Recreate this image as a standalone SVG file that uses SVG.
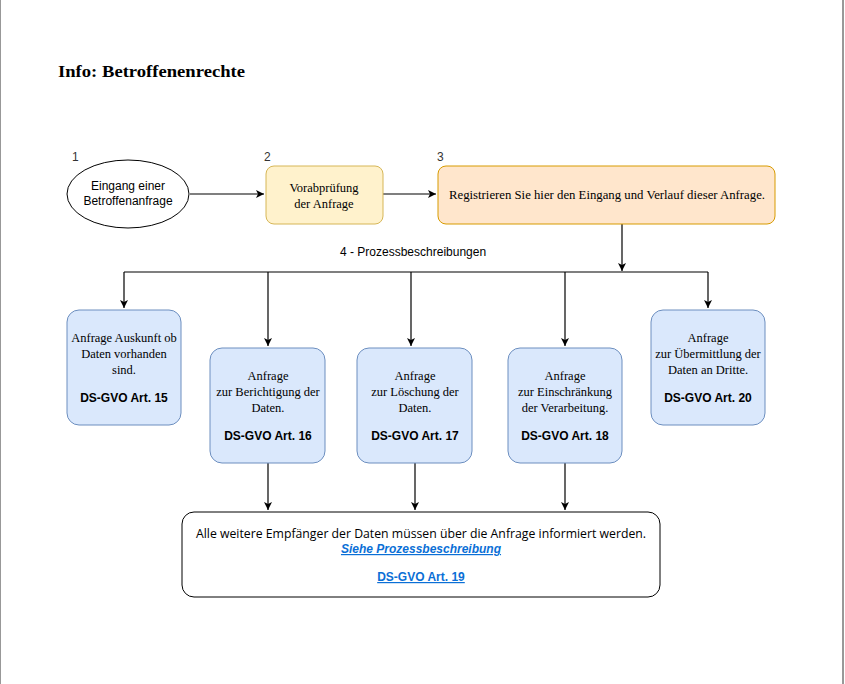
<svg xmlns="http://www.w3.org/2000/svg" width="845" height="684" viewBox="0 0 845 684">
<style>
.s{font-family:"Liberation Serif",serif;font-size:12.5px;fill:#000;text-anchor:middle}
.a{font-family:"Liberation Sans",Arial,sans-serif;font-size:12px;fill:#000;text-anchor:middle}
.b{font-family:"Liberation Sans",Arial,sans-serif;font-size:12px;font-weight:bold;fill:#000;text-anchor:middle}
.n{font-family:"Liberation Sans",Arial,sans-serif;font-size:12px;fill:#333}
.blue{fill:#dae8fc;stroke:#6c8ebf;stroke-width:1}
.c{stroke:#000;stroke-width:1.2;fill:none;marker-end:url(#ar)}
.l{fill:#0a6fd6;text-decoration:underline}
</style>
<defs><marker id="ar" markerWidth="10" markerHeight="10" refX="8" refY="4" orient="auto" markerUnits="userSpaceOnUse"><path d="M0,0 L8,4 L0,8 L2,4 z" fill="#000"/></marker></defs>
<rect x="0" y="-2" width="843" height="690" fill="#fff" stroke="#777" stroke-width="1.5"/>
<text x="58" y="77" textLength="187" lengthAdjust="spacingAndGlyphs" style="font-family:'Liberation Serif',serif;font-size:17px;font-weight:bold">Info: Betroffenenrechte</text>
<text x="72" y="161" class="n">1</text>
<text x="264" y="161" class="n">2</text>
<text x="437" y="161" class="n">3</text>
<text x="340" y="256" class="n" style="fill:#000">4 -  Prozessbeschreibungen</text>
<g id="connectors">
<line x1="190" y1="194" x2="264" y2="194" class="c"/>
<line x1="383" y1="194" x2="436" y2="194" class="c"/>
<line x1="622" y1="224" x2="622" y2="271" class="c"/>
<line x1="124" y1="272" x2="708" y2="272" stroke="#000" stroke-width="1.2"/>
<line x1="124" y1="272" x2="124" y2="308" class="c"/>
<line x1="268" y1="272" x2="268" y2="346" class="c"/>
<line x1="411" y1="272" x2="411" y2="346" class="c"/>
<line x1="565" y1="272" x2="565" y2="346" class="c"/>
<line x1="708" y1="272" x2="708" y2="308" class="c"/>
<line x1="268" y1="463" x2="268" y2="510" class="c"/>
<line x1="415" y1="463" x2="415" y2="510" class="c"/>
<line x1="565" y1="463" x2="565" y2="510" class="c"/>
</g>
<g id="n1"><ellipse cx="128" cy="194" rx="61" ry="34" fill="#fff" stroke="#000"/>
<text x="128" y="190" class="a">Eingang einer</text><text x="128" y="205" class="a">Betroffenanfrage</text></g>
<g id="n2"><rect x="266" y="166" width="117" height="58" rx="8" fill="#fff2cc" stroke="#d6b656"/>
<text x="324" y="192" class="s">Vorabprüfung</text><text x="324" y="208" class="s">der Anfrage</text></g>
<g id="n3"><rect x="438" y="166" width="337" height="58" rx="8" fill="#ffe6cc" stroke="#d79b00"/>
<text x="607" y="199" class="s" textLength="316" lengthAdjust="spacingAndGlyphs">Registrieren Sie hier den Eingang und Verlauf dieser Anfrage.</text></g>
<g id="n15"><rect x="67" y="310" width="114" height="115" rx="12" class="blue"/>
<text x="124" y="342" class="s">Anfrage Auskunft ob</text><text x="124" y="358" class="s">Daten vorhanden</text><text x="124" y="374" class="s">sind.</text><text x="124" y="402" class="b">DS-GVO Art. 15</text></g>
<g id="n16"><rect x="210" y="348" width="115" height="115" rx="12" class="blue"/>
<text x="268" y="380" class="s">Anfrage</text><text x="268" y="396" class="s">zur Berichtigung der</text><text x="268" y="412" class="s">Daten.</text><text x="268" y="440" class="b">DS-GVO Art. 16</text></g>
<g id="n17"><rect x="357" y="348" width="115" height="115" rx="12" class="blue"/>
<text x="415" y="380" class="s">Anfrage</text><text x="415" y="396" class="s">zur Löschung der</text><text x="415" y="412" class="s">Daten.</text><text x="415" y="440" class="b">DS-GVO Art. 17</text></g>
<g id="n18"><rect x="508" y="348" width="114" height="115" rx="12" class="blue"/>
<text x="565" y="380" class="s">Anfrage</text><text x="565" y="396" class="s">zur Einschränkung</text><text x="565" y="412" class="s">der Verarbeitung.</text><text x="565" y="440" class="b">DS-GVO Art. 18</text></g>
<g id="n20"><rect x="651" y="310" width="114" height="115" rx="12" class="blue"/>
<text x="708" y="342" class="s">Anfrage</text><text x="708" y="358" class="s">zur Übermittlung der</text><text x="708" y="374" class="s">Daten an Dritte.</text><text x="708" y="402" class="b">DS-GVO Art. 20</text></g>
<g id="n19"><rect x="182" y="512" width="478" height="85" rx="12" fill="#fff" stroke="#000"/>
<text x="421" y="538" class="a" textLength="450" lengthAdjust="spacingAndGlyphs" style="font-family:'Open Sans','Liberation Sans',sans-serif;font-size:13px">Alle weitere Empfänger der Daten müssen über die Anfrage informiert werden.</text>
<text x="421" y="553" class="b l" style="font-style:italic">Siehe Prozessbeschreibung</text>
<text x="421" y="581" class="b l">DS-GVO Art. 19</text></g>
</svg>
